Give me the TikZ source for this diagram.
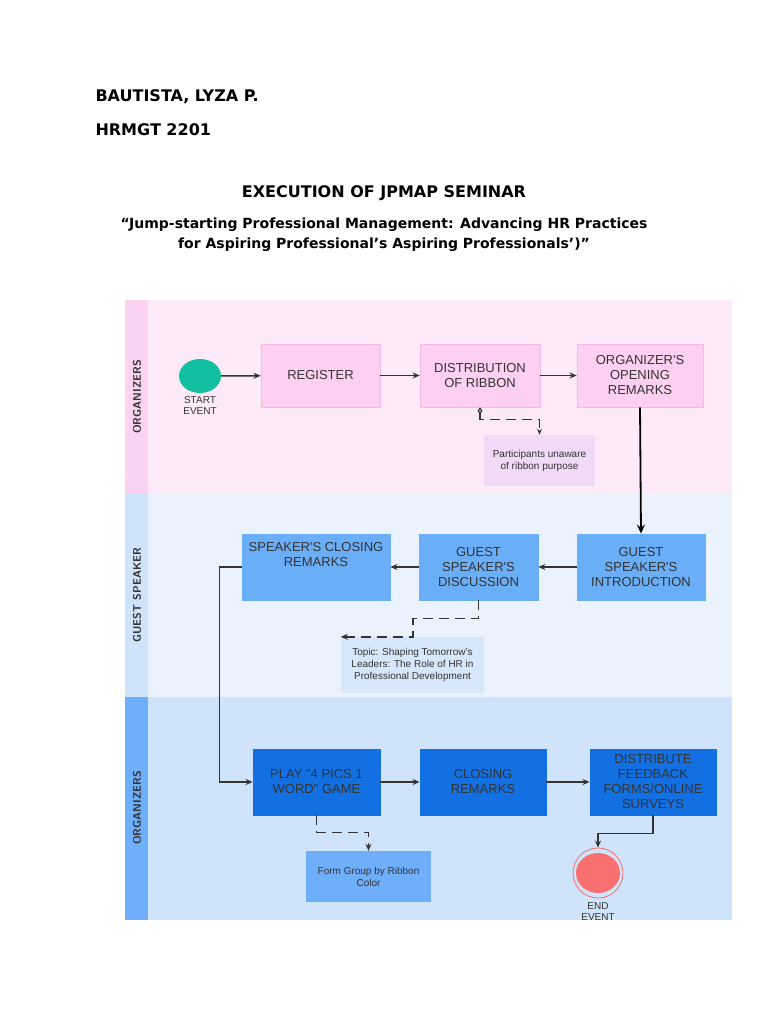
\documentclass[tikz,border=0pt]{standalone}
\usepackage{fontspec}
\setmainfont{DejaVu Sans}
\newfontfamily\diag{Liberation Sans}
\usetikzlibrary{arrows.meta,shapes.geometric}
\definecolor{laneA}{HTML}{FDEAF8}
\definecolor{headA}{HTML}{FBD3F1}
\definecolor{laneB}{HTML}{EAF3FD}
\definecolor{headB}{HTML}{CFE3FB}
\definecolor{laneC}{HTML}{CFE3FA}
\definecolor{headC}{HTML}{6FAEFA}
\definecolor{pinkbox}{HTML}{FDD0F2}
\definecolor{pinkline}{HTML}{F2B9E5}
\definecolor{lilac}{HTML}{F1D9F8}
\definecolor{midblue}{HTML}{6BAEF8}
\definecolor{paleblue}{HTML}{D6E7FB}
\definecolor{deepblue}{HTML}{1270E2}
\definecolor{teal}{HTML}{12BFA0}
\definecolor{endred}{HTML}{F97070}
\definecolor{ink}{HTML}{333333}
\begin{document}
\begin{tikzpicture}[x=1pt,y=-1pt,
  box/.style={draw=#1,line width=0.8pt,inner sep=0pt,align=center,font=\diag\fontsize{13}{15}\selectfont,text=ink},
  note/.style={inner sep=0pt,align=center,font=\diag\fontsize{10}{12}\selectfont,text=ink},
  lbl/.style={font=\diag\fontsize{10}{11}\selectfont,align=center,text=ink},
  flow/.style={-{Stealth[length=7pt,width=6pt]},line width=1.5pt,draw=ink},
  dflow/.style={-{Stealth[length=7pt,width=6pt]},line width=1.5pt,draw=ink,dash pattern=on 10pt off 6pt},
  lane/.style={font=\sffamily\bfseries\fontsize{11}{12}\selectfont,rotate=90,text=ink}]
\useasboundingbox (0,0) rectangle (768,1024);
\fill[white] (0,0) rectangle (768,1024);
% texts
\node[anchor=west,font=\bfseries\fontsize{16}{18}\selectfont] (t1) at (92,97) {BAUTISTA, LYZA P.};
\node[anchor=west,font=\bfseries\fontsize{16}{18}\selectfont] (t2) at (92,130) {HRMGT 2201};
\node[font=\bfseries\fontsize{16}{18}\selectfont] (t3) at (384,193) {EXECUTION OF JPMAP SEMINAR};
\node[font=\bfseries\fontsize{14}{20}\selectfont,align=center] (t4) at (384,235) {“Jump-starting Professional Management: Advancing HR Practices\\for Aspiring Professional's Aspiring Professionals')”};
% lanes
\fill[laneA] (125,300) rectangle (732,493);
\fill[headA] (125,300) rectangle (148,493);
\fill[laneB] (125,493) rectangle (732,697);
\fill[headB] (125,493) rectangle (148,697);
\fill[laneC] (125,697) rectangle (732,920);
\fill[headC] (125,697) rectangle (148,920);
\node[lane] (l1) at (137,397) {ORGANIZERS};
\node[lane] (l2) at (137,595) {GUEST SPEAKER};
\node[lane] (l3) at (137,808) {ORGANIZERS};
% nodes lane 1
\node[ellipse,fill=teal,minimum width=42pt,minimum height=34pt,inner sep=0pt] (start) at (200,376) {};
\node[lbl,anchor=north] (startl) at (200,393) {START\\EVENT};
\node[box=pinkline,fill=pinkbox,minimum width=119pt,minimum height=63pt] (reg) at (320.5,375.5) {REGISTER};
\node[box=pinkline,fill=pinkbox,minimum width=120pt,minimum height=63pt] (dist) at (480,375.5) {DISTRIBUTION\\OF RIBBON};
\node[box=pinkline,fill=pinkbox,minimum width=126pt,minimum height=63pt] (org) at (640,375.5) {ORGANIZER'S\\OPENING\\REMARKS};
\node[note,fill=lilac,minimum width=111pt,minimum height=51pt] (n1) at (539.5,460.5) {Participants unaware\\of ribbon purpose};
% lane 2
\node[box=midblue,fill=midblue,minimum width=148pt,minimum height=66pt] (sclose) at (316,567) {SPEAKER'S CLOSING\\REMARKS\\[10pt]};
\node[box=midblue,fill=midblue,minimum width=119pt,minimum height=66pt] (disc) at (478.5,567) {GUEST\\SPEAKER'S\\DISCUSSION};
\node[box=midblue,fill=midblue,minimum width=128pt,minimum height=66pt] (intro) at (641,567) {GUEST\\SPEAKER'S\\INTRODUCTION};
\node[note,fill=paleblue,minimum width=143pt,minimum height=56pt] (n2) at (412.5,665) {Topic: Shaping Tomorrow’s\\Leaders: The Role of HR in\\Professional Development};
% lane 3
\node[box=deepblue,fill=deepblue,minimum width=127pt,minimum height=66pt] (play) at (316.5,782) {PLAY "4 PICS 1\\WORD" GAME};
\node[box=deepblue,fill=deepblue,minimum width=126pt,minimum height=66pt] (close) at (483,782) {CLOSING\\REMARKS};
\node[box=deepblue,fill=deepblue,minimum width=126pt,minimum height=66pt] (distr) at (653,782) {DISTRIBUTE\\FEEDBACK\\FORMS/ONLINE\\SURVEYS};
\node[note,fill=headC,minimum width=125pt,minimum height=51pt] (n3) at (368.5,876.5) {Form Group by Ribbon\\Color};
\node[circle,draw=endred,line width=0.8pt,minimum size=50pt,inner sep=0pt] (endo) at (598,873) {};
\node[ellipse,fill=endred,minimum width=44pt,minimum height=40pt,inner sep=0pt] (endc) at (598,873) {};
\node[lbl,anchor=north] (endl) at (598,899) {END\\EVENT};
% connectors
\draw[flow] (start) -- (reg);
\draw[flow] (reg) -- (dist);
\draw[flow] (dist) -- (org);
\draw[-{Stealth[length=9pt,width=8pt]},line width=1.8pt,black] (org.south) -- (intro.north);
\draw[flow] (intro) -- (disc);
\draw[flow] (disc) -- (sclose);
\draw[flow,line width=1.2pt] (sclose.west) -- ++(-22,0) |- (play.west);
\draw[flow] (play) -- (close);
\draw[flow] (close) -- (distr);
\draw[flow] (distr.south) -- ++(0,18) -| (endo.north);
\draw[dflow,line width=1.2pt,{Diamond[open,length=7pt,width=5pt]}-{Stealth[length=6pt,width=5pt]}] (dist.south) -- ++(0,12) -| (n1.north);
\draw[dflow] (disc.south) -- ++(0,18) -| ([xshift=72pt]n2.north west) -- (n2.north west|-n2.north) ;
\draw[dflow] (play.south) -- ++(0,17) -| (n3.north);
\end{tikzpicture}
\end{document}
